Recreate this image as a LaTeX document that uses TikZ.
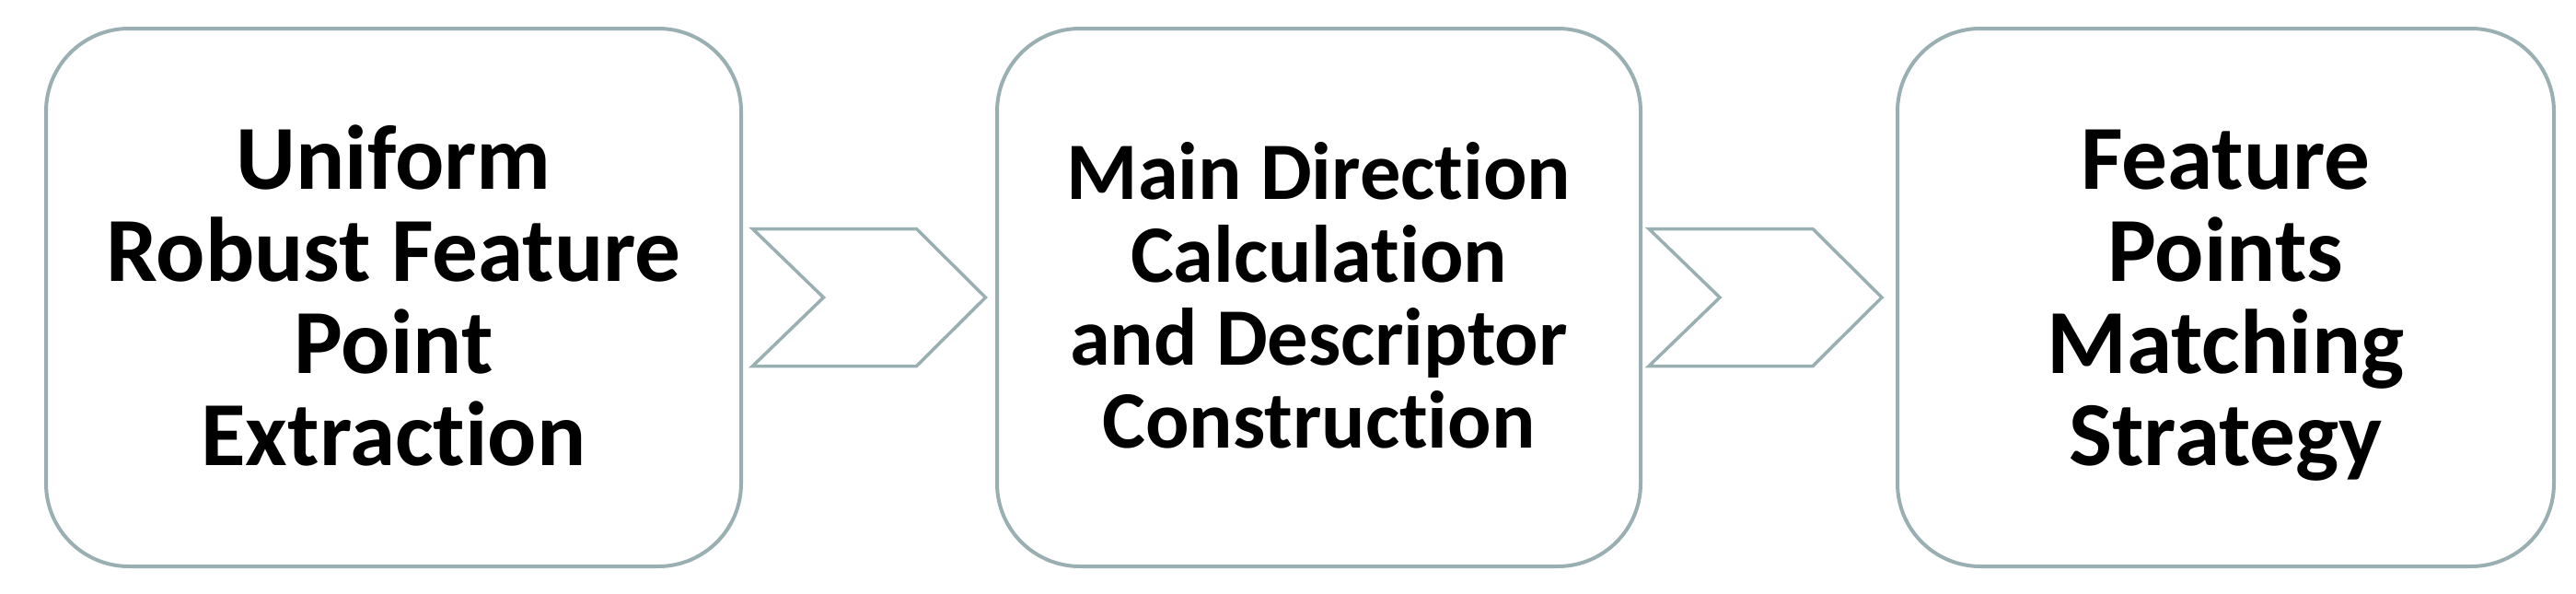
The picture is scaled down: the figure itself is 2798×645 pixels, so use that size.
\documentclass[tikz,border=0pt]{standalone}
\usepackage{fontspec}
\setmainfont{Carlito}[Ligatures={NoCommon,NoContextual}]
\usetikzlibrary{calc}
\definecolor{edgegray}{HTML}{9AAFB2}
\newcommand{\capline}[1]{\raisebox{0pt}[0.644em][0pt]{#1}}
\newcommand{\lastline}[1]{\raisebox{0pt}[\height][0pt]{#1}}
\begin{document}
\begin{tikzpicture}[x=1pt,y=-1pt,
  stagebox/.style={draw=edgegray, line width=4pt, rounded corners=90pt,
    minimum height=584pt, inner sep=0pt, align=center, font=\bfseries},
  bigtext/.style={font=\fontsize{99.4pt}{100pt}\selectfont\bfseries},
  midtext/.style={font=\fontsize{88.5pt}{90pt}\selectfont\bfseries},
  chevronline/.style={draw=edgegray, line width=3.5pt, line join=miter}]
\useasboundingbox (0,0) rectangle (2798,645);
\node[stagebox, bigtext, minimum width=755pt] (b1) at (427.5,323)
  {\capline{Uniform}\\Robust Feature\\Point\\\lastline{Extraction}};
\node[stagebox, midtext, minimum width=699pt] (b2) at (1432.5,323)
  {\capline{Main Direction}\\Calculation\\and Descriptor\\\lastline{Construction}};
\node[stagebox, bigtext, minimum width=713pt] (b3) at (2417.5,323)
  {\capline{Feature}\\Points\\Matching\\\lastline{Strategy}};
\coordinate (c1) at ($(b1.east)!0.5!(b2.west)$);
\coordinate (c2) at ($(b2.east)!0.5!(b3.west)+(-4,0)$);
\foreach \c in {c1,c2}{
  \draw[chevronline] ($(\c)+(-126.5,-74.5)$) -- ($(\c)+(51.5,-74.5)$)
    -- ($(\c)+(126.5,0)$) -- ($(\c)+(51.5,74.5)$) -- ($(\c)+(-126.5,74.5)$)
    -- ($(\c)+(-49.5,0)$) -- cycle;
}
\end{tikzpicture}
\end{document}
